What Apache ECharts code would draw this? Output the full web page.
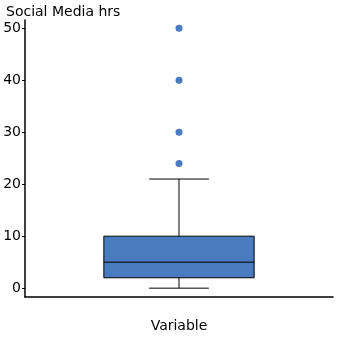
<!DOCTYPE html>
<html>
<head>
<meta charset="utf-8">
<script src="https://cdn.jsdelivr.net/npm/echarts@6/dist/echarts.min.js"></script>
<style>html,body{margin:0;padding:0;background:#fff;}#c{width:337px;height:337px;}</style>
</head>
<body>
<div id="c"></div>
<script>
var categories = ['Variable'];
// [category index, whisker low, Q1, median, Q3, whisker high]
var boxValues = [[0, 0, 2, 5, 10, 21]];
var outlierValues = [[0, 24], [0, 30], [0, 40], [0, 50]];
var yTickValues = [0, 10, 20, 30, 40, 50];
var yTitle = 'Social Media hrs';

var chart = echarts.init(document.getElementById('c'));
var font = 'DejaVu Sans, Verdana, sans-serif';
chart.setOption({
  animation: false,
  title: {
    text: yTitle, left: 1, top: 0,
    textStyle: {fontFamily: font, fontSize: 14, fontWeight: 'normal', color: '#000'}
  },
  grid: {left: 25, right: 4, top: 20, bottom: 40},
  xAxis: {
    type: 'category', data: categories,
    axisLine: {onZero: false, lineStyle: {color: '#000', width: 1.5}},
    axisTick: {alignWithLabel: true, length: 3, lineStyle: {color: '#000'}},
    axisLabel: {margin: 22, fontFamily: font, fontSize: 14, color: '#000'}
  },
  yAxis: {
    type: 'value', min: -1.7, max: 51.6,
    splitLine: {show: false},
    axisLine: {show: true, lineStyle: {color: '#000', width: 1.5}},
    axisTick: {show: true, length: 3, customValues: yTickValues, lineStyle: {color: '#000'}},
    axisLabel: {customValues: yTickValues, margin: 4, fontFamily: font, fontSize: 14, color: '#000'}
  },
  series: [{
    type: 'custom',
    data: boxValues,
    renderItem: function (params, api) {
      var x = api.value(0);
      var band = api.size([1, 0])[0];
      var hw = band * 0.244, cw = band * 0.097;
      var pLo = api.coord([x, api.value(1)]);
      var pQ1 = api.coord([x, api.value(2)]);
      var pMed = api.coord([x, api.value(3)]);
      var pQ3 = api.coord([x, api.value(4)]);
      var pHi = api.coord([x, api.value(5)]);
      var cx = pQ1[0];
      var ls = {stroke: '#000', lineWidth: 1};
      return {
        type: 'group',
        children: [
          {type: 'line', shape: {x1: cx, y1: pHi[1], x2: cx, y2: pQ3[1]}, style: ls},
          {type: 'line', shape: {x1: cx, y1: pQ1[1], x2: cx, y2: pLo[1]}, style: ls},
          {type: 'line', shape: {x1: cx - cw, y1: pHi[1], x2: cx + cw, y2: pHi[1]}, style: ls},
          {type: 'line', shape: {x1: cx - cw, y1: pLo[1], x2: cx + cw, y2: pLo[1]}, style: ls},
          {type: 'rect', shape: {x: cx - hw, y: pQ3[1], width: hw * 2, height: pQ1[1] - pQ3[1]},
            style: {fill: '#4a7bbf', stroke: '#000', lineWidth: 1}},
          {type: 'line', shape: {x1: cx - hw, y1: pMed[1], x2: cx + hw, y2: pMed[1]}, style: ls}
        ]
      };
    }
  }, {
    type: 'scatter',
    data: outlierValues,
    symbolSize: 7,
    itemStyle: {color: '#4a7bbf', opacity: 1}
  }]
});
</script>
</body>
</html>
